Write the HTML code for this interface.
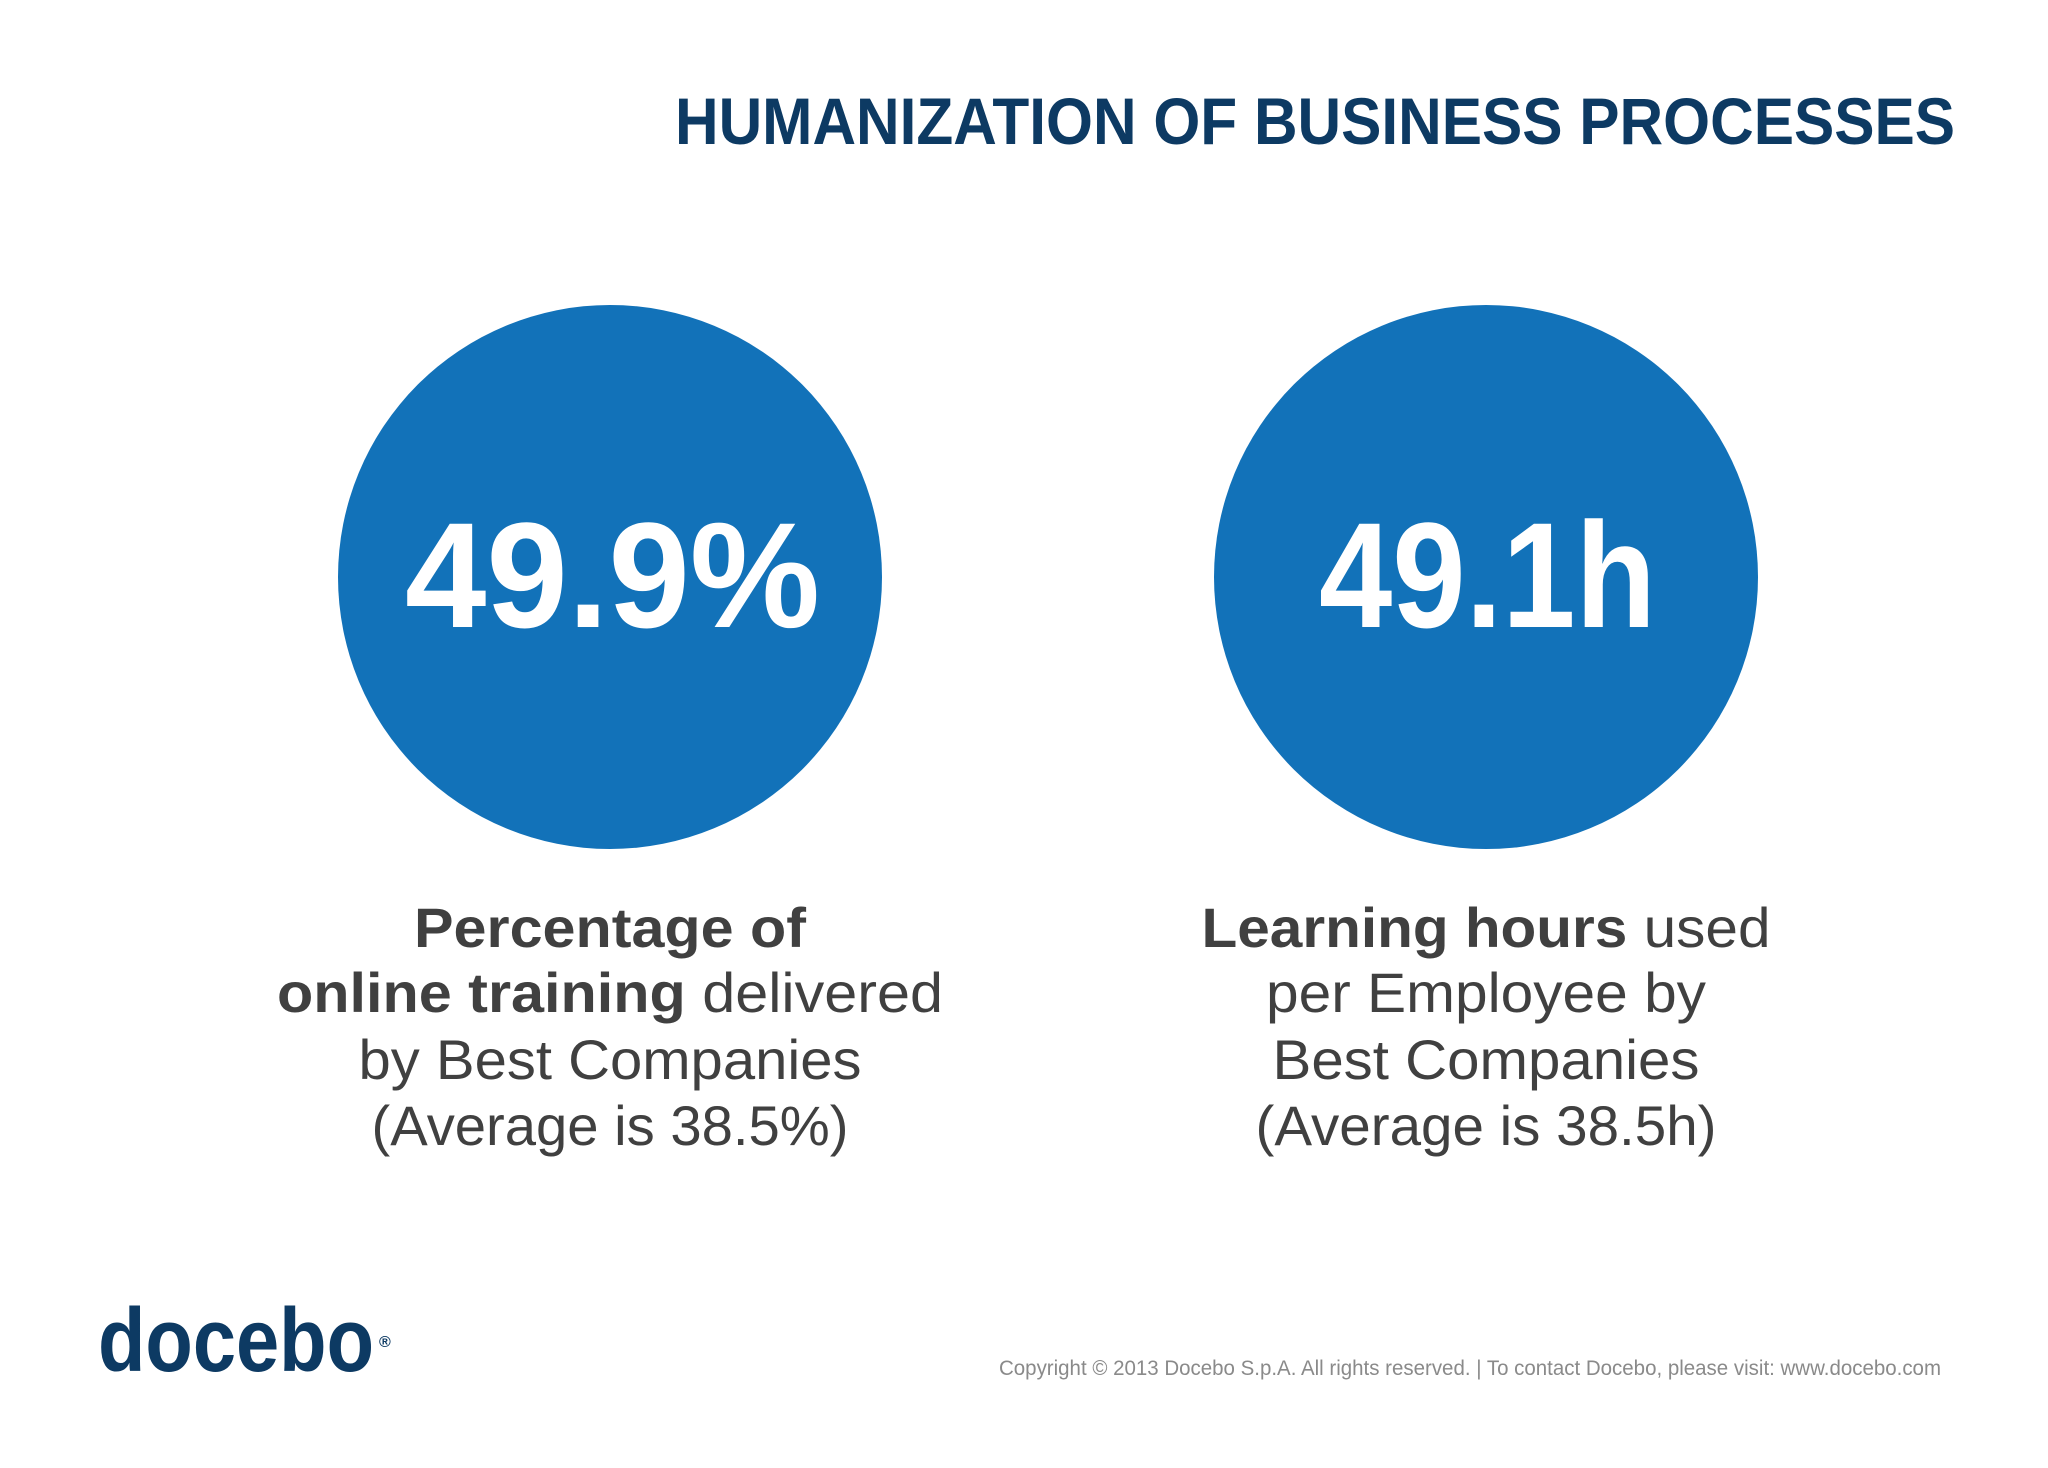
<!DOCTYPE html>
<html>
<head>
<meta charset="utf-8">
<style>
  html,body{margin:0;padding:0;background:#fff;}
  svg{display:block;font-family:"Liberation Sans",sans-serif;}
</style>
</head>
<body>
<svg width="2048" height="1468" viewBox="0 0 2048 1468" xmlns="http://www.w3.org/2000/svg">
  <rect width="2048" height="1468" fill="#ffffff"/>
  <text x="675" y="144" font-size="66" font-weight="bold" fill="#0d3a63" textLength="1280" lengthAdjust="spacingAndGlyphs">HUMANIZATION OF BUSINESS PROCESSES</text>

  <circle cx="610" cy="577" r="272" fill="#1272b9"/>
  <text x="405" y="627" font-size="150" font-weight="bold" fill="#ffffff" textLength="415" lengthAdjust="spacingAndGlyphs">49.9%</text>

  <circle cx="1486" cy="577" r="272" fill="#1272b9"/>
  <text x="1319" y="627" font-size="150" font-weight="bold" fill="#ffffff" textLength="337" lengthAdjust="spacingAndGlyphs">49.1h</text>

  <g font-size="56" fill="#404040" text-anchor="middle">
    <text x="610" y="947" font-weight="bold" textLength="392" lengthAdjust="spacingAndGlyphs">Percentage of</text>
    <text x="610" y="1012" textLength="666" lengthAdjust="spacingAndGlyphs"><tspan font-weight="bold">online training</tspan> delivered</text>
    <text x="610" y="1079" textLength="503" lengthAdjust="spacingAndGlyphs">by Best Companies</text>
    <text x="610" y="1145" textLength="477" lengthAdjust="spacingAndGlyphs">(Average is 38.5%)</text>
  </g>

  <g font-size="56" fill="#404040" text-anchor="middle">
    <text x="1486" y="947" textLength="569" lengthAdjust="spacingAndGlyphs"><tspan font-weight="bold">Learning hours</tspan> used</text>
    <text x="1486" y="1012" textLength="440" lengthAdjust="spacingAndGlyphs">per Employee by</text>
    <text x="1486" y="1079" textLength="427" lengthAdjust="spacingAndGlyphs">Best Companies</text>
    <text x="1486" y="1145" textLength="461" lengthAdjust="spacingAndGlyphs">(Average is 38.5h)</text>
  </g>

  <text x="98" y="1371" font-size="90" font-weight="bold" fill="#0d3a63" textLength="276" lengthAdjust="spacingAndGlyphs">docebo</text>
  <text x="379" y="1347" font-size="16" font-weight="bold" fill="#0d3a63">®</text>

  <text x="999" y="1375" font-size="21" fill="#8a8a8a" textLength="942" lengthAdjust="spacingAndGlyphs">Copyright © 2013 Docebo S.p.A. All rights reserved.   |  To contact Docebo, please visit: www.docebo.com</text>
</svg>
</body>
</html>
